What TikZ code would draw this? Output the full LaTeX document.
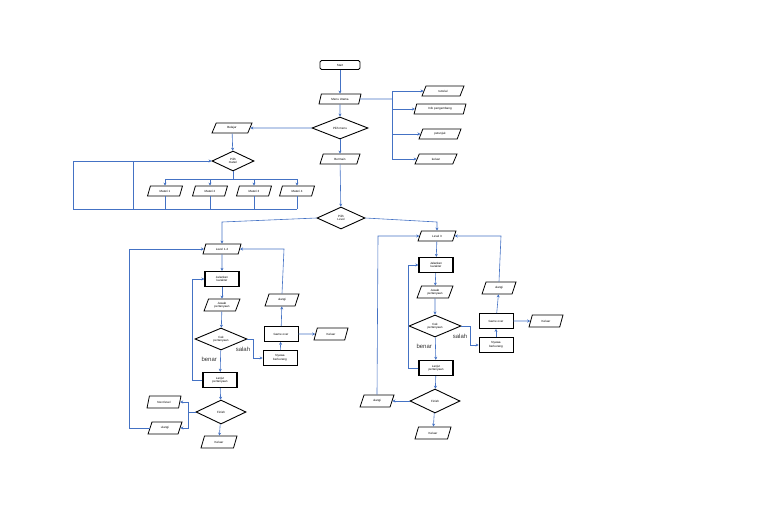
\documentclass[tikz,border=0pt]{standalone}
\usepackage{fontspec}
\setmainfont{Liberation Sans}
\usetikzlibrary{shapes.geometric,arrows.meta}
\definecolor{ln}{RGB}{68,114,196}
\tikzset{
 base/.style={draw=black,fill=white,font=\fontsize{3}{3.5}\selectfont,align=center,inner sep=0.5pt},
 io/.style={base,trapezium,trapezium left angle=70,trapezium right angle=110,line width=0.8pt,minimum height=10pt,minimum width=#1,trapezium stretches=true},
 io/.default=36pt,
 proc/.style={base,rectangle,line width=0.6pt,minimum width=34pt,minimum height=15pt},
 procb/.style={proc,line width=1.3pt},
 dec/.style={base,diamond,aspect=2.2,line width=0.9pt,minimum width=#1,minimum height=22pt},
 dec/.default=52pt,
 term/.style={base,rectangle,rounded corners=1.5pt,line width=0.8pt,minimum width=40pt,minimum height=9pt},
 con/.style={draw=ln,line width=0.6pt,-{Stealth[length=3pt,width=3pt]}},
 lnk/.style={draw=ln,line width=0.6pt},
 lab/.style={font=\fontsize{6}{7}\selectfont,text=black!80}
}
\begin{document}
\begin{tikzpicture}[x=1pt,y=-1pt]
\useasboundingbox (0,0) rectangle (768,512);
% top
\node[term] (start) at (340,65) {Start};
\node[io=42pt] (menu) at (340,99) {Menu Utama};
\node[dec=56pt] (pmenu) at (340,128) {Pilih menu};
\node[io=40pt] (main) at (340,159) {Bermain};
\node[io=42pt] (tut) at (443,91) {tutorial};
\node[io=52pt] (info) at (440,109) {Info pengembang};
\node[io=42pt] (pet) at (440,134) {petunjuk};
\node[io=42pt] (kel) at (436,159) {keluar};
\coordinate (tr) at (392,99);
\draw[lnk] (menu) -- (tr);
\draw[lnk] (tr) -- (392,159);
\draw[con] (tr) |- (tut);
\draw[con] (tr) |- (info);
\draw[con] (tr) |- (pet);
\draw[con] (tr) |- (kel);
\draw[con] (start) -- (menu);
\draw[con] (menu) -- (pmenu);
\draw[con] (pmenu) -- (main);
% belajar
\node[io=40pt] (bel) at (232,128) {Belajar};
\draw[con] (pmenu) -- (bel);
\node[dec=42pt,minimum height=20pt] (pmat) at (233,161) {Pilih\\materi};
\draw[con] (bel) -- (pmat);
\foreach \i/\x in {1/165,2/210,3/254,4/297}{
 \node[io=35pt] (m\i) at (\x,191) {Materi \i};
 \draw[con] (233,179) -| (m\i);
 \draw[lnk] (m\i) -- (\x,209);
}
\draw[lnk] (pmat) -- (233,179);
\draw[lnk] (73,209) -- (297,209);
\draw[con] (73,209) -- (73,161) -- (pmat.west);
\draw[lnk] (133,209) -- (133,161);
% pilih level
\node[dec=48pt] (plev) at (341,218) {Pilih\\Level};
\draw[con] (main) -- (plev);
\node[io=38pt] (l1) at (222,249) {Level 1-2};
\node[io=38pt] (l3) at (437,236) {Level 3};
\draw[con] (plev.west) -- (222,222) -- (l1);
\draw[con] (plev.east) -- (437,222) -- (l3);
% left column
\node[procb] (jk1) at (222,279) {Jalankan\\karakter};
\node[io=36pt,minimum height=12pt] (jp1) at (222,305) {Jawab\\pertanyaan};
\node[dec] (cek1) at (221,339) {Cek\\pertanyaan};
\node[procb] (lp1) at (220,380) {Lanjut\\pertanyaan};
\node[dec=50pt,minimum height=24pt] (fin1) at (221,412) {Finish};
\node[io=36pt,minimum height=12pt] (k1) at (219,442) {Keluar};
\node[io=34pt,minimum height=12pt] (nl) at (164,402) {Next level};
\node[io=34pt,minimum height=12pt] (u1) at (165,428) {ulangi};
\node[proc] (go1) at (281,334) {Game over};
\node[proc] (ny1) at (280,358) {Nyawa\\berkurang};
\node[io=34pt,minimum height=12pt] (ug1) at (282,300) {ulangi};
\node[io=34pt,minimum height=12pt] (ke1) at (331,334) {Keluar};
\draw[con] (l1) -- (jk1);
\draw[con] (jk1) -- (jp1);
\draw[con] (jp1) -- (cek1);
\draw[con] (cek1) -- node[lab,left,pos=0.4]{benar} (lp1);
\draw[con] (lp1.west) -- (192,380) -- (192,279) -- (jk1.west);
\draw[con] (cek1.east) -- (253,339) |- (ny1.west);
\node[lab] at (243,349) {salah};
\draw[con] (ny1) -- (go1);
\draw[con] (go1) -- (ug1);
\draw[con] (go1) -- (ke1);
\draw[con] (ug1.north) -- (284,249) -- (l1.east);
\draw[con] (lp1) -- (fin1);
\draw[con] (fin1) -- (k1);
\draw[con] (fin1.west) -- (188,412) |- (nl.east);
\draw[con] (188,412) |- (u1.east);
\draw[con] (u1.west) -- (129,428) -- (129,249) -- (l1.west);
% right column
\node[procb] (jk2) at (436,265) {Jalankan\\karakter};
\node[io=36pt,minimum height=12pt] (jp2) at (435,292) {Jawab\\pertanyaan};
\node[dec] (cek2) at (435,326) {Cek\\pertanyaan};
\node[procb] (lp2) at (436,368) {Lanjut\\pertanyaan};
\node[dec=50pt,minimum height=24pt] (fin2) at (435,401) {Finish};
\node[io=36pt,minimum height=12pt] (k2) at (433,433) {Keluar};
\node[io=34pt,minimum height=12pt] (u2) at (377,401) {ulangi};
\node[proc] (go2) at (496,321) {Game over};
\node[proc] (ny2) at (496,345) {Nyawa\\berkurang};
\node[io=34pt,minimum height=12pt] (ug2) at (499,288) {ulangi};
\node[io=34pt,minimum height=12pt] (ke2) at (546,321) {Keluar};
\draw[con] (l3) -- (jk2);
\draw[con] (jk2) -- (jp2);
\draw[con] (jp2) -- (cek2);
\draw[con] (cek2) -- node[lab,left,pos=0.4]{benar} (lp2);
\draw[con] (lp2.west) -- (408,368) -- (408,265) -- (jk2.west);
\draw[con] (cek2.east) -- (470,326) |- (ny2.west);
\node[lab] at (460,336) {salah};
\draw[con] (ny2) -- (go2);
\draw[con] (go2) -- (ug2);
\draw[con] (go2) -- (ke2);
\draw[con] (ug2.north) -- (501,236) -- (l3.east);
\draw[con] (lp2) -- (fin2);
\draw[con] (fin2) -- (k2);
\draw[con] (fin2.west) -- (u2.east);
\draw[con] (u2.north) -- (378,236) -- (l3.west);
\end{tikzpicture}
\end{document}
